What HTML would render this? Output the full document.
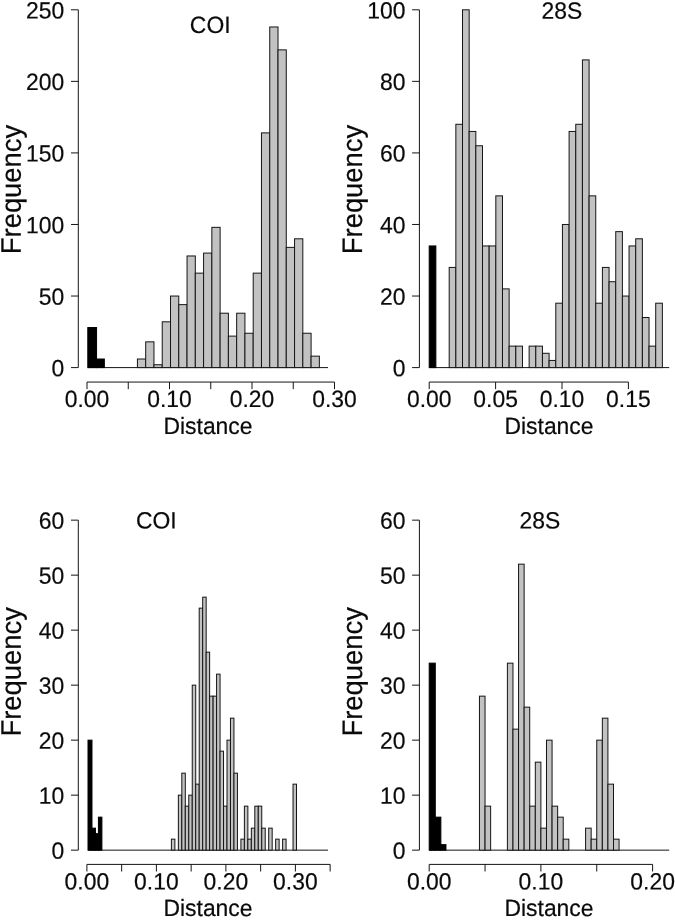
<!DOCTYPE html>
<html lang="en">
<head>
<meta charset="utf-8">
<title>Distance frequency histograms</title>
<style>
html,body{margin:0;padding:0;background:#fff;}
body{width:675px;height:920px;overflow:hidden;}
svg{display:block;filter:blur(0.3px);}
svg text{font-family:"Liberation Sans", Arial, Helvetica, sans-serif;font-size:22.9px;fill:#0a0a0a;stroke:#0a0a0a;stroke-width:0.2px;text-rendering:geometricPrecision;}
svg text.yl{font-size:27.4px;}
</style>
</head>
<body>
<svg width="675" height="920" viewBox="0 0 675 920">
<rect width="675" height="920" fill="#fff"/>
<g>
<line x1="87.8" y1="367.6" x2="328" y2="367.6" stroke="#151515" stroke-width="1.0"/>
<rect x="87.8" y="327.53" width="8.77" height="40.07" fill="#000" stroke="#000" stroke-width="1.0"/>
<rect x="96.07" y="359.01" width="8.27" height="8.59" fill="#000" stroke="#000" stroke-width="1.0"/>
<rect x="137.42" y="359.01" width="8.27" height="8.59" fill="#c2c2c2" stroke="#151515" stroke-width="1.0"/>
<rect x="145.69" y="341.84" width="8.27" height="25.76" fill="#c2c2c2" stroke="#151515" stroke-width="1.0"/>
<rect x="153.96" y="364.74" width="8.27" height="2.86" fill="#c2c2c2" stroke="#151515" stroke-width="1.0"/>
<rect x="162.23" y="321.8" width="8.27" height="45.8" fill="#c2c2c2" stroke="#151515" stroke-width="1.0"/>
<rect x="170.5" y="296.04" width="8.27" height="71.56" fill="#c2c2c2" stroke="#151515" stroke-width="1.0"/>
<rect x="178.77" y="304.63" width="8.27" height="62.97" fill="#c2c2c2" stroke="#151515" stroke-width="1.0"/>
<rect x="187.04" y="255.97" width="8.27" height="111.63" fill="#c2c2c2" stroke="#151515" stroke-width="1.0"/>
<rect x="195.31" y="273.14" width="8.27" height="94.46" fill="#c2c2c2" stroke="#151515" stroke-width="1.0"/>
<rect x="203.58" y="253.1" width="8.27" height="114.5" fill="#c2c2c2" stroke="#151515" stroke-width="1.0"/>
<rect x="211.85" y="227.34" width="8.27" height="140.26" fill="#c2c2c2" stroke="#151515" stroke-width="1.0"/>
<rect x="220.12" y="313.21" width="8.27" height="54.39" fill="#c2c2c2" stroke="#151515" stroke-width="1.0"/>
<rect x="228.39" y="336.11" width="8.27" height="31.49" fill="#c2c2c2" stroke="#151515" stroke-width="1.0"/>
<rect x="236.66" y="313.21" width="8.27" height="54.39" fill="#c2c2c2" stroke="#151515" stroke-width="1.0"/>
<rect x="244.93" y="333.25" width="8.27" height="34.35" fill="#c2c2c2" stroke="#151515" stroke-width="1.0"/>
<rect x="253.2" y="273.14" width="8.27" height="94.46" fill="#c2c2c2" stroke="#151515" stroke-width="1.0"/>
<rect x="261.47" y="132.88" width="8.27" height="234.72" fill="#c2c2c2" stroke="#151515" stroke-width="1.0"/>
<rect x="269.74" y="26.97" width="8.27" height="340.63" fill="#c2c2c2" stroke="#151515" stroke-width="1.0"/>
<rect x="278.01" y="49.87" width="8.27" height="317.73" fill="#c2c2c2" stroke="#151515" stroke-width="1.0"/>
<rect x="286.28" y="247.38" width="8.27" height="120.22" fill="#c2c2c2" stroke="#151515" stroke-width="1.0"/>
<rect x="294.55" y="238.79" width="8.27" height="128.81" fill="#c2c2c2" stroke="#151515" stroke-width="1.0"/>
<rect x="302.82" y="333.25" width="8.27" height="34.35" fill="#c2c2c2" stroke="#151515" stroke-width="1.0"/>
<rect x="311.09" y="356.15" width="8.27" height="11.45" fill="#c2c2c2" stroke="#151515" stroke-width="1.0"/>
<path d="M78.3 9.8V367.6M71 367.6H78.3M71 296.04H78.3M71 224.48H78.3M71 152.92H78.3M71 81.36H78.3M71 9.8H78.3M87 382.05H334.5M87 382.05V389.15M128.25 382.05V389.15M169.5 382.05V389.15M210.75 382.05V389.15M252 382.05V389.15M293.25 382.05V389.15M334.5 382.05V389.15" fill="none" stroke="#151515" stroke-width="1.0"/>
<text transform="translate(64.3 376.3) rotate(0.05) scale(1 1.03)" text-anchor="end">0</text>
<text transform="translate(64.3 304.74) rotate(0.05) scale(1 1.03)" text-anchor="end">50</text>
<text transform="translate(64.3 233.18) rotate(0.05) scale(1 1.03)" text-anchor="end">100</text>
<text transform="translate(64.3 161.62) rotate(0.05) scale(1 1.03)" text-anchor="end">150</text>
<text transform="translate(64.3 90.06) rotate(0.05) scale(1 1.03)" text-anchor="end">200</text>
<text transform="translate(64.3 18.5) rotate(0.05) scale(1 1.03)" text-anchor="end">250</text>
<text transform="translate(87 407.1) rotate(0.05) scale(1 1.03)" text-anchor="middle">0.00</text>
<text transform="translate(169.5 407.1) rotate(0.05) scale(1 1.03)" text-anchor="middle">0.10</text>
<text transform="translate(252 407.1) rotate(0.05) scale(1 1.03)" text-anchor="middle">0.20</text>
<text transform="translate(334.5 407.1) rotate(0.05) scale(1 1.03)" text-anchor="middle">0.30</text>
<text transform="translate(210.2 33) rotate(0.05) scale(1 1.03)" text-anchor="middle">COI</text>
<text transform="translate(208 434) rotate(0.05) scale(1 1.03)" text-anchor="middle">Distance</text>
<text class="yl" transform="translate(20.85 189.5) rotate(-89.95) scale(1 1.03)" text-anchor="middle">Frequency</text>
</g>
<g>
<line x1="429.2" y1="367.6" x2="669.2" y2="367.6" stroke="#151515" stroke-width="1.0"/>
<rect x="429.2" y="245.95" width="6.66" height="121.65" fill="#000" stroke="#000" stroke-width="1.0"/>
<rect x="449.19" y="267.42" width="6.66" height="100.18" fill="#c2c2c2" stroke="#151515" stroke-width="1.0"/>
<rect x="455.85" y="124.3" width="6.66" height="243.3" fill="#c2c2c2" stroke="#151515" stroke-width="1.0"/>
<rect x="462.51" y="9.8" width="6.66" height="357.8" fill="#c2c2c2" stroke="#151515" stroke-width="1.0"/>
<rect x="469.17" y="131.45" width="6.66" height="236.15" fill="#c2c2c2" stroke="#151515" stroke-width="1.0"/>
<rect x="475.83" y="145.76" width="6.66" height="221.84" fill="#c2c2c2" stroke="#151515" stroke-width="1.0"/>
<rect x="482.5" y="245.95" width="6.66" height="121.65" fill="#c2c2c2" stroke="#151515" stroke-width="1.0"/>
<rect x="489.16" y="245.95" width="6.66" height="121.65" fill="#c2c2c2" stroke="#151515" stroke-width="1.0"/>
<rect x="495.82" y="195.86" width="6.66" height="171.74" fill="#c2c2c2" stroke="#151515" stroke-width="1.0"/>
<rect x="502.48" y="288.88" width="6.66" height="78.72" fill="#c2c2c2" stroke="#151515" stroke-width="1.0"/>
<rect x="509.14" y="346.13" width="6.66" height="21.47" fill="#c2c2c2" stroke="#151515" stroke-width="1.0"/>
<rect x="515.81" y="346.13" width="6.66" height="21.47" fill="#c2c2c2" stroke="#151515" stroke-width="1.0"/>
<rect x="529.13" y="346.13" width="6.66" height="21.47" fill="#c2c2c2" stroke="#151515" stroke-width="1.0"/>
<rect x="535.79" y="346.13" width="6.66" height="21.47" fill="#c2c2c2" stroke="#151515" stroke-width="1.0"/>
<rect x="542.45" y="353.29" width="6.66" height="14.31" fill="#c2c2c2" stroke="#151515" stroke-width="1.0"/>
<rect x="549.12" y="360.44" width="6.66" height="7.16" fill="#c2c2c2" stroke="#151515" stroke-width="1.0"/>
<rect x="555.78" y="303.2" width="6.66" height="64.4" fill="#c2c2c2" stroke="#151515" stroke-width="1.0"/>
<rect x="562.44" y="224.48" width="6.66" height="143.12" fill="#c2c2c2" stroke="#151515" stroke-width="1.0"/>
<rect x="569.1" y="131.45" width="6.66" height="236.15" fill="#c2c2c2" stroke="#151515" stroke-width="1.0"/>
<rect x="575.76" y="124.3" width="6.66" height="243.3" fill="#c2c2c2" stroke="#151515" stroke-width="1.0"/>
<rect x="582.43" y="59.89" width="6.66" height="307.71" fill="#c2c2c2" stroke="#151515" stroke-width="1.0"/>
<rect x="589.09" y="195.86" width="6.66" height="171.74" fill="#c2c2c2" stroke="#151515" stroke-width="1.0"/>
<rect x="595.75" y="303.2" width="6.66" height="64.4" fill="#c2c2c2" stroke="#151515" stroke-width="1.0"/>
<rect x="602.41" y="267.42" width="6.66" height="100.18" fill="#c2c2c2" stroke="#151515" stroke-width="1.0"/>
<rect x="609.07" y="281.73" width="6.66" height="85.87" fill="#c2c2c2" stroke="#151515" stroke-width="1.0"/>
<rect x="615.74" y="231.64" width="6.66" height="135.96" fill="#c2c2c2" stroke="#151515" stroke-width="1.0"/>
<rect x="622.4" y="296.04" width="6.66" height="71.56" fill="#c2c2c2" stroke="#151515" stroke-width="1.0"/>
<rect x="629.06" y="245.95" width="6.66" height="121.65" fill="#c2c2c2" stroke="#151515" stroke-width="1.0"/>
<rect x="635.72" y="238.79" width="6.66" height="128.81" fill="#c2c2c2" stroke="#151515" stroke-width="1.0"/>
<rect x="642.38" y="317.51" width="6.66" height="50.09" fill="#c2c2c2" stroke="#151515" stroke-width="1.0"/>
<rect x="649.05" y="346.13" width="6.66" height="21.47" fill="#c2c2c2" stroke="#151515" stroke-width="1.0"/>
<rect x="655.71" y="303.2" width="6.66" height="64.4" fill="#c2c2c2" stroke="#151515" stroke-width="1.0"/>
<path d="M419.4 9.8V367.6M412.1 367.6H419.4M412.1 296.04H419.4M412.1 224.48H419.4M412.1 152.92H419.4M412.1 81.36H419.4M412.1 9.8H419.4M429.2 382.05H628.4M429.2 382.05V389.15M495.6 382.05V389.15M562 382.05V389.15M628.4 382.05V389.15" fill="none" stroke="#151515" stroke-width="1.0"/>
<text transform="translate(405.4 376.3) rotate(0.05) scale(1 1.03)" text-anchor="end">0</text>
<text transform="translate(405.4 304.74) rotate(0.05) scale(1 1.03)" text-anchor="end">20</text>
<text transform="translate(405.4 233.18) rotate(0.05) scale(1 1.03)" text-anchor="end">40</text>
<text transform="translate(405.4 161.62) rotate(0.05) scale(1 1.03)" text-anchor="end">60</text>
<text transform="translate(405.4 90.06) rotate(0.05) scale(1 1.03)" text-anchor="end">80</text>
<text transform="translate(405.4 18.5) rotate(0.05) scale(1 1.03)" text-anchor="end">100</text>
<text transform="translate(429.2 407.1) rotate(0.05) scale(1 1.03)" text-anchor="middle">0.00</text>
<text transform="translate(495.6 407.1) rotate(0.05) scale(1 1.03)" text-anchor="middle">0.05</text>
<text transform="translate(562 407.1) rotate(0.05) scale(1 1.03)" text-anchor="middle">0.10</text>
<text transform="translate(628.4 407.1) rotate(0.05) scale(1 1.03)" text-anchor="middle">0.15</text>
<text transform="translate(561.8 18.7) rotate(0.05) scale(1 1.03)" text-anchor="middle">28S</text>
<text transform="translate(549 434) rotate(0.05) scale(1 1.03)" text-anchor="middle">Distance</text>
<text class="yl" transform="translate(362 189.5) rotate(-89.95) scale(1 1.03)" text-anchor="middle">Frequency</text>
</g>
<g>
<line x1="88" y1="850.15" x2="328" y2="850.15" stroke="#151515" stroke-width="1.0"/>
<rect x="88" y="740.15" width="3.98" height="110" fill="#000" stroke="#000" stroke-width="1.0"/>
<rect x="91.47" y="828.15" width="3.98" height="22" fill="#000" stroke="#000" stroke-width="1.0"/>
<rect x="94.95" y="833.65" width="3.98" height="16.5" fill="#000" stroke="#000" stroke-width="1.0"/>
<rect x="98.42" y="817.15" width="3.48" height="33" fill="#000" stroke="#000" stroke-width="1.0"/>
<rect x="171.4" y="839.15" width="3.48" height="11" fill="#c2c2c2" stroke="#151515" stroke-width="1.0"/>
<rect x="178.35" y="795.15" width="3.48" height="55" fill="#c2c2c2" stroke="#151515" stroke-width="1.0"/>
<rect x="181.82" y="773.15" width="3.48" height="77" fill="#c2c2c2" stroke="#151515" stroke-width="1.0"/>
<rect x="185.3" y="806.15" width="3.48" height="44" fill="#c2c2c2" stroke="#151515" stroke-width="1.0"/>
<rect x="188.78" y="795.15" width="3.48" height="55" fill="#c2c2c2" stroke="#151515" stroke-width="1.0"/>
<rect x="192.25" y="685.15" width="3.48" height="165" fill="#c2c2c2" stroke="#151515" stroke-width="1.0"/>
<rect x="195.73" y="784.15" width="3.48" height="66" fill="#c2c2c2" stroke="#151515" stroke-width="1.0"/>
<rect x="199.2" y="608.15" width="3.48" height="242" fill="#c2c2c2" stroke="#151515" stroke-width="1.0"/>
<rect x="202.68" y="597.15" width="3.48" height="253" fill="#c2c2c2" stroke="#151515" stroke-width="1.0"/>
<rect x="206.15" y="652.15" width="3.48" height="198" fill="#c2c2c2" stroke="#151515" stroke-width="1.0"/>
<rect x="209.62" y="696.15" width="3.48" height="154" fill="#c2c2c2" stroke="#151515" stroke-width="1.0"/>
<rect x="213.1" y="696.15" width="3.48" height="154" fill="#c2c2c2" stroke="#151515" stroke-width="1.0"/>
<rect x="216.58" y="674.15" width="3.48" height="176" fill="#c2c2c2" stroke="#151515" stroke-width="1.0"/>
<rect x="220.05" y="751.15" width="3.48" height="99" fill="#c2c2c2" stroke="#151515" stroke-width="1.0"/>
<rect x="223.53" y="806.15" width="3.48" height="44" fill="#c2c2c2" stroke="#151515" stroke-width="1.0"/>
<rect x="227" y="740.15" width="3.48" height="110" fill="#c2c2c2" stroke="#151515" stroke-width="1.0"/>
<rect x="230.47" y="718.15" width="3.48" height="132" fill="#c2c2c2" stroke="#151515" stroke-width="1.0"/>
<rect x="233.95" y="773.15" width="3.48" height="77" fill="#c2c2c2" stroke="#151515" stroke-width="1.0"/>
<rect x="240.9" y="839.15" width="3.48" height="11" fill="#c2c2c2" stroke="#151515" stroke-width="1.0"/>
<rect x="244.38" y="806.15" width="3.48" height="44" fill="#c2c2c2" stroke="#151515" stroke-width="1.0"/>
<rect x="247.85" y="839.15" width="3.48" height="11" fill="#c2c2c2" stroke="#151515" stroke-width="1.0"/>
<rect x="251.33" y="828.15" width="3.48" height="22" fill="#c2c2c2" stroke="#151515" stroke-width="1.0"/>
<rect x="254.8" y="806.15" width="3.48" height="44" fill="#c2c2c2" stroke="#151515" stroke-width="1.0"/>
<rect x="258.27" y="806.15" width="3.48" height="44" fill="#c2c2c2" stroke="#151515" stroke-width="1.0"/>
<rect x="261.75" y="828.15" width="3.48" height="22" fill="#c2c2c2" stroke="#151515" stroke-width="1.0"/>
<rect x="268.7" y="828.15" width="3.48" height="22" fill="#c2c2c2" stroke="#151515" stroke-width="1.0"/>
<rect x="275.65" y="839.15" width="3.48" height="11" fill="#c2c2c2" stroke="#151515" stroke-width="1.0"/>
<rect x="282.6" y="839.15" width="3.48" height="11" fill="#c2c2c2" stroke="#151515" stroke-width="1.0"/>
<rect x="293.02" y="784.15" width="3.48" height="66" fill="#c2c2c2" stroke="#151515" stroke-width="1.0"/>
<path d="M78.3 520.15V850.15M71 850.15H78.3M71 795.15H78.3M71 740.15H78.3M71 685.15H78.3M71 630.15H78.3M71 575.15H78.3M71 520.15H78.3M86.9 864.4H330.15M86.9 864.4V871.5M121.65 864.4V871.5M156.4 864.4V871.5M191.15 864.4V871.5M225.9 864.4V871.5M260.65 864.4V871.5M295.4 864.4V871.5M330.15 864.4V871.5" fill="none" stroke="#151515" stroke-width="1.0"/>
<text transform="translate(64.3 858.65) rotate(0.05) scale(1 1.03)" text-anchor="end">0</text>
<text transform="translate(64.3 803.65) rotate(0.05) scale(1 1.03)" text-anchor="end">10</text>
<text transform="translate(64.3 748.65) rotate(0.05) scale(1 1.03)" text-anchor="end">20</text>
<text transform="translate(64.3 693.65) rotate(0.05) scale(1 1.03)" text-anchor="end">30</text>
<text transform="translate(64.3 638.65) rotate(0.05) scale(1 1.03)" text-anchor="end">40</text>
<text transform="translate(64.3 583.65) rotate(0.05) scale(1 1.03)" text-anchor="end">50</text>
<text transform="translate(64.3 528.65) rotate(0.05) scale(1 1.03)" text-anchor="end">60</text>
<text transform="translate(86.9 889.4) rotate(0.05) scale(1 1.03)" text-anchor="middle">0.00</text>
<text transform="translate(156.4 889.4) rotate(0.05) scale(1 1.03)" text-anchor="middle">0.10</text>
<text transform="translate(225.9 889.4) rotate(0.05) scale(1 1.03)" text-anchor="middle">0.20</text>
<text transform="translate(295.4 889.4) rotate(0.05) scale(1 1.03)" text-anchor="middle">0.30</text>
<text transform="translate(156.3 528.4) rotate(0.05) scale(1 1.03)" text-anchor="middle">COI</text>
<text transform="translate(208 916.1) rotate(0.05) scale(1 1.03)" text-anchor="middle">Distance</text>
<text class="yl" transform="translate(20.85 671.8) rotate(-89.95) scale(1 1.03)" text-anchor="middle">Frequency</text>
</g>
<g>
<line x1="429.2" y1="850.15" x2="669.2" y2="850.15" stroke="#151515" stroke-width="1.0"/>
<rect x="429.2" y="663.15" width="6.08" height="187" fill="#000" stroke="#000" stroke-width="1.0"/>
<rect x="434.78" y="817.15" width="6.08" height="33" fill="#000" stroke="#000" stroke-width="1.0"/>
<rect x="440.37" y="844.65" width="5.58" height="5.5" fill="#000" stroke="#000" stroke-width="1.0"/>
<rect x="479.46" y="696.15" width="5.58" height="154" fill="#c2c2c2" stroke="#151515" stroke-width="1.0"/>
<rect x="485.05" y="806.15" width="5.58" height="44" fill="#c2c2c2" stroke="#151515" stroke-width="1.0"/>
<rect x="507.39" y="663.15" width="5.58" height="187" fill="#c2c2c2" stroke="#151515" stroke-width="1.0"/>
<rect x="512.98" y="729.15" width="5.58" height="121" fill="#c2c2c2" stroke="#151515" stroke-width="1.0"/>
<rect x="518.56" y="564.15" width="5.58" height="286" fill="#c2c2c2" stroke="#151515" stroke-width="1.0"/>
<rect x="524.14" y="707.15" width="5.58" height="143" fill="#c2c2c2" stroke="#151515" stroke-width="1.0"/>
<rect x="529.73" y="806.15" width="5.58" height="44" fill="#c2c2c2" stroke="#151515" stroke-width="1.0"/>
<rect x="535.31" y="762.15" width="5.58" height="88" fill="#c2c2c2" stroke="#151515" stroke-width="1.0"/>
<rect x="540.9" y="828.15" width="5.58" height="22" fill="#c2c2c2" stroke="#151515" stroke-width="1.0"/>
<rect x="546.49" y="740.15" width="5.58" height="110" fill="#c2c2c2" stroke="#151515" stroke-width="1.0"/>
<rect x="552.07" y="806.15" width="5.58" height="44" fill="#c2c2c2" stroke="#151515" stroke-width="1.0"/>
<rect x="557.65" y="817.15" width="5.58" height="33" fill="#c2c2c2" stroke="#151515" stroke-width="1.0"/>
<rect x="563.24" y="839.15" width="5.58" height="11" fill="#c2c2c2" stroke="#151515" stroke-width="1.0"/>
<rect x="585.58" y="828.15" width="5.58" height="22" fill="#c2c2c2" stroke="#151515" stroke-width="1.0"/>
<rect x="591.16" y="839.15" width="5.58" height="11" fill="#c2c2c2" stroke="#151515" stroke-width="1.0"/>
<rect x="596.75" y="740.15" width="5.58" height="110" fill="#c2c2c2" stroke="#151515" stroke-width="1.0"/>
<rect x="602.34" y="718.15" width="5.58" height="132" fill="#c2c2c2" stroke="#151515" stroke-width="1.0"/>
<rect x="607.92" y="784.15" width="5.58" height="66" fill="#c2c2c2" stroke="#151515" stroke-width="1.0"/>
<rect x="613.5" y="839.15" width="5.58" height="11" fill="#c2c2c2" stroke="#151515" stroke-width="1.0"/>
<path d="M419.4 520.15V850.15M412.1 850.15H419.4M412.1 795.15H419.4M412.1 740.15H419.4M412.1 685.15H419.4M412.1 630.15H419.4M412.1 575.15H419.4M412.1 520.15H419.4M429.2 864.4H652.6M429.2 864.4V871.5M485.05 864.4V871.5M540.9 864.4V871.5M596.75 864.4V871.5M652.6 864.4V871.5" fill="none" stroke="#151515" stroke-width="1.0"/>
<text transform="translate(405.4 858.65) rotate(0.05) scale(1 1.03)" text-anchor="end">0</text>
<text transform="translate(405.4 803.65) rotate(0.05) scale(1 1.03)" text-anchor="end">10</text>
<text transform="translate(405.4 748.65) rotate(0.05) scale(1 1.03)" text-anchor="end">20</text>
<text transform="translate(405.4 693.65) rotate(0.05) scale(1 1.03)" text-anchor="end">30</text>
<text transform="translate(405.4 638.65) rotate(0.05) scale(1 1.03)" text-anchor="end">40</text>
<text transform="translate(405.4 583.65) rotate(0.05) scale(1 1.03)" text-anchor="end">50</text>
<text transform="translate(405.4 528.65) rotate(0.05) scale(1 1.03)" text-anchor="end">60</text>
<text transform="translate(429.2 889.4) rotate(0.05) scale(1 1.03)" text-anchor="middle">0.00</text>
<text transform="translate(540.9 889.4) rotate(0.05) scale(1 1.03)" text-anchor="middle">0.10</text>
<text transform="translate(652.6 889.4) rotate(0.05) scale(1 1.03)" text-anchor="middle">0.20</text>
<text transform="translate(539.9 528.4) rotate(0.05) scale(1 1.03)" text-anchor="middle">28S</text>
<text transform="translate(549 916.1) rotate(0.05) scale(1 1.03)" text-anchor="middle">Distance</text>
<text class="yl" transform="translate(362 671.8) rotate(-89.95) scale(1 1.03)" text-anchor="middle">Frequency</text>
</g>
</svg>
</body>
</html>
